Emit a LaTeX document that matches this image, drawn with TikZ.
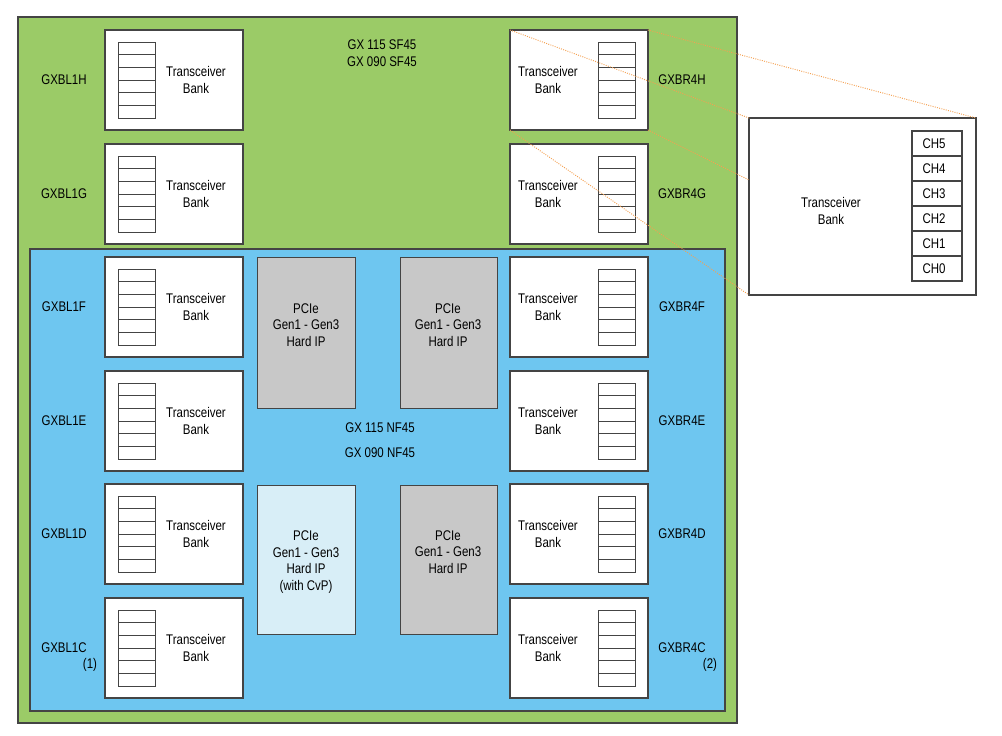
\documentclass[tikz,border=0pt]{standalone}
\usepackage{fontspec}
\setmainfont[FakeStretch=0.82]{Liberation Sans}
\definecolor{grn}{HTML}{9BCB67}
\definecolor{blu}{HTML}{6EC6F0}
\definecolor{gry}{HTML}{C8C8C8}
\definecolor{lbl}{HTML}{D8EEF7}
\definecolor{org}{HTML}{F5A050}
\definecolor{edg}{HTML}{444444}
\begin{document}
\begin{tikzpicture}[x=0.75pt,y=-0.75pt,font=\fontsize{10.5}{12.5}\selectfont,
  bankbox/.style={draw=edg,fill=white,line width=0.8pt},
  cell/.style={draw=edg,fill=white,line width=0.6pt},
  lab/.style={align=center,inner sep=0pt},
  zoomline/.style={draw=org,densely dotted,line width=0.7pt}]
\useasboundingbox (0,0) rectangle (1002,735);
\fill[white] (0,0) rectangle (1002,735);
\draw[edg,fill=grn,line width=0.8pt] (18,17) rectangle (737,723);
\draw[edg,fill=blu,line width=0.8pt] (30,249) rectangle (725,711);
\node[lab] (sf1) at (382,45) {GX 115 SF45};
\node[lab] (sf2) at (382,62) {GX 090 SF45};
\node[lab] (nf1) at (380,428) {GX 115 NF45};
\node[lab] (nf2) at (380,453) {GX 090 NF45};
% banks
\foreach \t/\n [count=\i from 0] in {30/H,144/G,257/F,371/E,484/D,598/C}{
  \draw[bankbox] (105,\t) rectangle (243,\t+100);
  \foreach \k in {0,...,5} \draw[cell] (118,\t+12+\k*12.7) rectangle (155,\t+24.7+\k*12.7);
  \node[lab] (lb\n) at (196,\t+50) {Transceiver\\Bank};
  \node[lab] (ll\n) at (64,\t+50) {GXBL1\n};
  \draw[bankbox] (510,\t) rectangle (648,\t+100);
  \foreach \k in {0,...,5} \draw[cell] (598,\t+12+\k*12.7) rectangle (635,\t+24.7+\k*12.7);
  \node[lab] (rb\n) at (548,\t+50) {Transceiver\\Bank};
  \node[lab] (rl\n) at (682,\t+50) {GXBR4\n};
}
\node[lab] (n1) at (90,665) {(1)};
\node[lab] (n2) at (710,665) {(2)};
% PCIe
\draw[edg,fill=gry,line width=0.6pt] (257,257) rectangle (355,408);
\node[lab] (p1) at (306,325) {PCIe\\Gen1 - Gen3\\Hard IP};
\draw[edg,fill=gry,line width=0.6pt] (400,257) rectangle (497,408);
\node[lab] (p2) at (448,325) {PCIe\\Gen1 - Gen3\\Hard IP};
\draw[edg,fill=lbl,line width=0.6pt] (257,485) rectangle (355,634);
\node[lab] (p3) at (306,562) {PCIe\\Gen1 - Gen3\\Hard IP\\(with CvP)};
\draw[edg,fill=gry,line width=0.6pt] (400,485) rectangle (497,634);
\node[lab] (p4) at (448,552) {PCIe\\Gen1 - Gen3\\Hard IP};
% inset
\draw[bankbox] (749,118) rectangle (976,295);
\node[lab] (ib) at (831,211) {Transceiver\\Bank};
\foreach \c [count=\k from 0] in {5,4,3,2,1,0}{
  \draw[cell,line width=0.8pt] (912,131+\k*25) rectangle (962,156+\k*25);
  \node[lab] (ch\c) at (934,143.5+\k*25) {CH\c};
}
\coordinate (a1) at (510,30); \coordinate (b1) at (749,118);
\coordinate (a2) at (648,30); \coordinate (b2) at (976,118);
\coordinate (a3) at (648,130); \coordinate (b3) at (749,180);
\coordinate (a4) at (510,130); \coordinate (b4) at (749,295);
\draw[zoomline] (a1) -- (b1);
\draw[zoomline] (a2) -- (b2);
\draw[zoomline] (a3) -- (b3);
\draw[zoomline] (a4) -- (b4);
\end{tikzpicture}
\end{document}
